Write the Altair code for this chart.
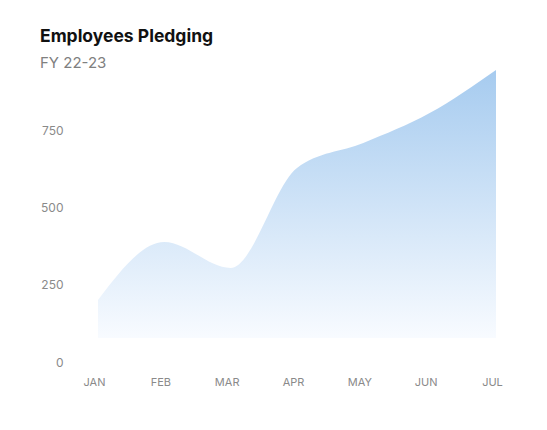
import altair as alt
import pandas as pd

# Monthly count of employees pledging, FY 22-23
months = ["JAN", "FEB", "MAR", "APR", "MAY", "JUN", "JUL"]
pledges = [201, 389, 305, 629, 710, 807, 947]
floor_value = 78
y_ticks = [0, 250, 500, 750]

df = pd.DataFrame({"month": months, "pledges": pledges})

fade = alt.Gradient(
    gradient="linear",
    stops=[
        alt.GradientStop(color="#f8fbff", offset=0),
        alt.GradientStop(color="#a6cbef", offset=1),
    ],
    x1=1, x2=1, y1=1, y2=0,
)

chart = (
    alt.Chart(df)
    .mark_area(interpolate="monotone", color=fade)
    .encode(
        x=alt.X(
            "month:O",
            sort=months,
            scale=alt.Scale(type="point", padding=0),
            axis=alt.Axis(
                title=None, labelAngle=0, domain=False, ticks=False, grid=False,
                labelColor="#8a8a8a", labelFontSize=11, labelFont="Inter",
                labelPadding=14, labelOffset=-4,
            ),
        ),
        y=alt.Y(
            "pledges:Q",
            scale=alt.Scale(domain=[0, 950], nice=False, zero=True),
            axis=alt.Axis(
                title=None, values=y_ticks, domain=False, ticks=False, grid=False,
                labelColor="#8a8a8a", labelFontSize=12, labelFont="Inter",
                labelPadding=35,
            ),
        ),
        y2=alt.datum(floor_value),
    )
    .properties(
        width=398,
        height=293,
        autosize=alt.AutoSizeParams(type="none"),
        padding={"left": 98, "top": 69, "right": 51, "bottom": 68},
        title=alt.TitleParams(
            text="Employees Pledging",
            subtitle="FY 22-23",
            anchor="start",
            frame="group",
            dx=-58,
            dy=2,
            offset=0,
            font="Inter",
            fontSize=17.5,
            fontWeight="bold",
            color="#111111",
            subtitleFont="Inter",
            subtitleFontSize=15,
            subtitleColor="#808080",
            subtitlePadding=11,
        ),
    )
    .configure_view(stroke=None)
)

chart.save("out.html", embed_options={"renderer": "svg", "actions": False})
